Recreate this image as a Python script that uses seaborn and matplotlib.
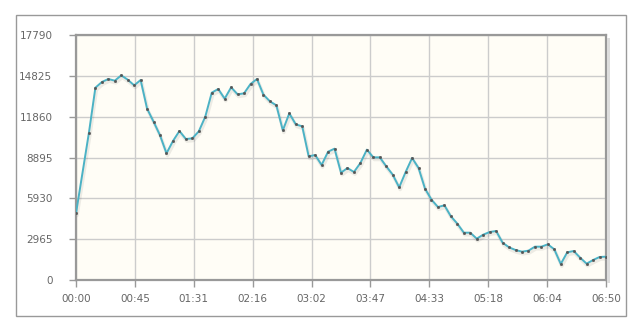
import numpy as np
import pandas as pd
import matplotlib
matplotlib.use("Agg")
import matplotlib.pyplot as plt
import matplotlib.patches as patches
import seaborn as sns

# ---- data (minutes since 00:00, a reading every 5 minutes; 00:05 not shown) ----
minutes = [0] + list(range(10, 415, 5))
values = [4840, 10697, 13965, 14377, 14595, 14473, 14860, 14545, 14135,
          14522, 12440, 11497, 10504, 9197, 10093, 10819, 10238, 10286, 10795,
          11860, 13600, 13869, 13166, 13990, 13481, 13554, 14232, 14595, 13457,
          12973, 12682, 10867, 12101, 11303, 11158, 8980, 9076, 8350, 9318,
          9536, 7794, 8132, 7842, 8495, 9463, 8906, 8906, 8253, 7648,
          6728, 7842, 8858, 8132, 6631, 5833, 5300, 5421, 4623, 4090,
          3437, 3437, 3001, 3292, 3485, 3558, 2711, 2372, 2178, 2057,
          2130, 2420, 2420, 2590, 2227, 1162, 2009, 2106, 1622, 1186,
          1452, 1670, 1694]
y_ticks = [0, 2965, 5930, 8895, 11860, 14825, 17790]
x_tick_labels = ["00:00", "00:45", "01:31", "02:16", "03:02", "03:47",
                 "04:33", "05:18", "06:04", "06:50"]

df = pd.DataFrame({"minute": minutes, "value": values})

sns.set_theme(style="white")
plt.rcParams["font.family"] = ["DejaVu Sans"]

W, H = 635, 322
fig = plt.figure(figsize=(W / 100, H / 100), dpi=100)
fig.patch.set_facecolor("white")

# outer frame
fig.patches.append(patches.Rectangle((15.5 / W, 1 - 315.5 / H), (626 - 15.5) / W, (315.5 - 14.5) / H,
                                     transform=fig.transFigure, fill=False,
                                     edgecolor="#999999", linewidth=1.0))

L, R, T, B = 76, 606, 35, 280
ax = fig.add_axes([L / W, 1 - B / H, (R - L) / W, (B - T) / H])

# plot-area shadow (right side)
fig.patches.append(patches.Rectangle(((R + 0.5) / W, 1 - (B + 3) / H), 3 / W, (B - T) / H,
                                     transform=fig.transFigure, facecolor="#dddddd",
                                     edgecolor="none", zorder=0))

ax.set_facecolor("#fffdf6")

# line shadow
ax.plot(np.array(minutes) + 0.8, np.array(values) - 160, color="#000000", alpha=0.07,
        linewidth=2.5, zorder=2)

sns.lineplot(data=df, x="minute", y="value", ax=ax, color="#4bb2c5", linewidth=1.4,
             marker="o", markersize=1.6, markerfacecolor="#555555",
             markeredgecolor="#555555", markeredgewidth=0.5, zorder=3)

ax.set_xlim(0, 410)
ax.set_ylim(0, 17790)
ax.set_yticks(y_ticks)
ax.set_yticklabels([str(v) for v in y_ticks])
ax.set_xticks(np.linspace(0, 410, len(x_tick_labels)))
ax.set_xticklabels(x_tick_labels)
ax.set_xlabel("")
ax.set_ylabel("")

ax.grid(True, color="#cccccc", linewidth=1.0)
ax.set_axisbelow(True)
for s in ax.spines.values():
    s.set_visible(True)
    s.set_color("#999999")
    s.set_linewidth(1.6)

ax.tick_params(axis="both", which="both", direction="out", length=5, width=1,
               color="#999999", labelcolor="#666666", labelsize=7.5)
ax.tick_params(axis="y", pad=12)
ax.tick_params(axis="x", pad=5)
ax.yaxis.set_ticks_position("left")
ax.xaxis.set_ticks_position("bottom")

fig.savefig("out.png", dpi=100, facecolor="white")
